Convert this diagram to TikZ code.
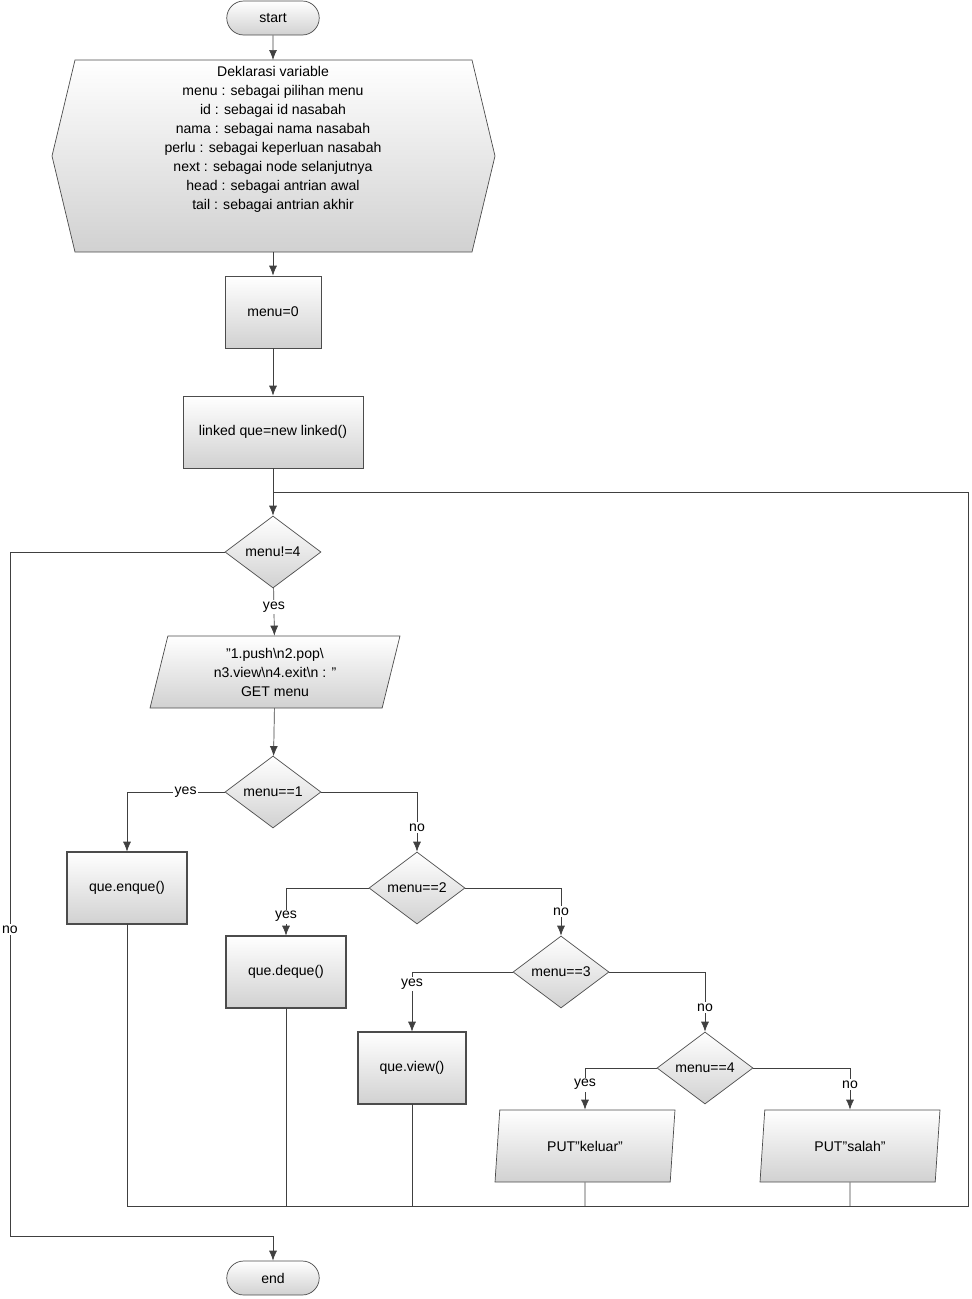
\documentclass[tikz,border=0pt]{standalone}
\usepackage{fontspec}
\setmainfont{Liberation Sans}
\usetikzlibrary{shapes.geometric,shapes.misc,arrows.meta}
\tikzset{
  box/.style={draw=black!70, top color=white, bottom color=black!18, font=\fontsize{8}{10.8}\selectfont, align=center, inner sep=1pt},
  term/.style={box, rounded rectangle, minimum width=1.92cm, minimum height=0.68cm},
  proc/.style={box, rectangle, minimum height=1.44cm},
  sub/.style={proc, double distance=0pt, append after command={
      (\tikzlastnode.north west) ++(0.2,0) edge[draw=black!70] ($(\tikzlastnode.south west)+(0.2,0)$)
      (\tikzlastnode.north east) ++(-0.2,0) edge[draw=black!70] ($(\tikzlastnode.south east)+(-0.2,0)$)}},
  dec/.style={box, diamond, aspect=1.33, minimum width=1.92cm, minimum height=1.44cm, inner sep=0pt},
  io/.style={box, trapezium, trapezium left angle=71, trapezium right angle=109, trapezium stretches body, minimum height=1.44cm},
  line/.style={draw=black!75},
  arr/.style={line, -{Latex[length=2mm,width=1.6mm]}},
  lbl/.style={fill=white, inner sep=1pt, font=\fontsize{8}{10}\selectfont}
}
\usetikzlibrary{calc}
\begin{document}
\begin{tikzpicture}[x=0.02cm,y=-0.02cm]
  \useasboundingbox (0,0) rectangle (971,1299);
  % terminals
  \node[term] (start) at (273,18) {start};
  \node[term] (end) at (273,1278) {end};
  % declaration
  \shade[top color=white, bottom color=black!18, draw=black!70]
    (75,60) -- (472,60) -- (495,156) -- (472,252) -- (75,252) -- (52,156) -- cycle;
  \node[font=\fontsize{8}{10.8}\selectfont, align=center, minimum height=3.84cm, minimum width=8.86cm, inner sep=0pt] (decl) at (273,156)
    {Deklarasi variable\\menu : sebagai pilihan menu\\id : sebagai id nasabah\\nama : sebagai nama nasabah\\perlu : sebagai keperluan nasabah\\next : sebagai node selanjutnya\\head : sebagai antrian awal\\tail : sebagai antrian akhir\\[10pt]};
  \node[proc, minimum width=1.92cm] (init) at (273,312) {menu=0};
  \node[proc, minimum width=3.6cm] (que) at (273,432) {linked que=new linked()};
  \node[dec] (loop) at (273,552) {menu!=4};
  \node[io, minimum width=5cm] (input) at (275,672) {"1.push\textbackslash n2.pop\textbackslash\\n3.view\textbackslash n4.exit\textbackslash n : "\\GET menu};
  \node[dec] (c1) at (273,792) {menu==1};
  \node[sub, minimum width=2.4cm] (enq) at (127,888) {que.enque()};
  \node[dec] (c2) at (417,888) {menu==2};
  \node[sub, minimum width=2.4cm] (deq) at (286,972) {que.deque()};
  \node[dec] (c3) at (561,972) {menu==3};
  \node[sub, minimum width=2.16cm] (view) at (412,1068) {que.view()};
  \node[dec] (c4) at (705,1068) {menu==4};
  \node[io, minimum width=3.6cm] (out) at (585,1146) {PUT”keluar”};
  \node[io, minimum width=3.6cm] (err) at (850,1146) {PUT”salah”};
  % merge points
  \coordinate (mL) at (127,1206);
  \coordinate (mR) at (968,1206);
  \coordinate (mT) at (968,492);
  \coordinate (join) at (273,492);
  \coordinate (nL) at (10,552);
  \coordinate (nB) at (10,1236);
  % connectors
  \draw[arr] (start) -- (decl.north |- 0,60);
  \draw[arr] (273,252) -- (init);
  \draw[arr] (init) -- (que);
  \draw[arr] (que) -- (loop);
  \draw[arr] (loop) -- node[lbl, pos=0.4] {yes} (input);
  \draw[arr] (input) -- (c1);
  \draw[arr] (c1.west) -| node[lbl, pos=0.2] {yes} (enq.north);
  \draw[arr] (c1.east) -| node[lbl, pos=0.8] {no} (c2.north);
  \draw[arr] (c2.west) -| node[lbl, pos=0.8] {yes} (deq.north);
  \draw[arr] (c2.east) -| node[lbl, pos=0.75] {no} (c3.north);
  \draw[arr] (c3.west) -| node[lbl, pos=0.6] {yes} (view.north);
  \draw[arr] (c3.east) -| node[lbl, pos=0.8] {no} (c4.north);
  \draw[arr] (c4.west) -| node[lbl, pos=0.7] {yes} (out.north);
  \draw[arr] (c4.east) -| node[lbl, pos=0.7] {no} (err.north);
  \draw[line] (enq) -- (mL) -- (mR) -- (mT) -- (join);
  \draw[line] (deq) -- (deq |- mL);
  \draw[line] (view) -- (view |- mL);
  \draw[line] (out) -- (out |- mL);
  \draw[line] (err) -- (err |- mL);
  \draw[arr] (loop.west) -- (nL) -- node[lbl, pos=0.552] {no} (nB) -| (end.north);
\end{tikzpicture}
\end{document}
